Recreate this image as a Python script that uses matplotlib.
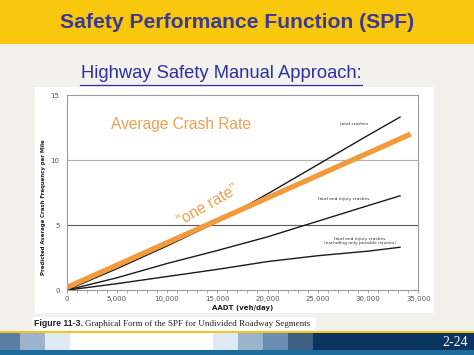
import matplotlib
matplotlib.use("Agg")
import matplotlib.pyplot as plt
from matplotlib.patches import Rectangle
import matplotlib.ticker as mticker

# ---- data ----
aadt = [0, 5000, 10000, 15000, 20000, 25000, 30000, 33180]
total_crashes = [0, 1.65, 3.4, 5.25, 7.4, 9.65, 11.9, 13.3]
fi_crashes = [0, 0.95, 2.05, 3.05, 4.1, 5.3, 6.5, 7.25]
fi_excl_crashes = [0, 0.5, 1.05, 1.6, 2.2, 2.65, 3.0, 3.3]
rate_aadt = [0, 34240]
rate_values = [0.2, 12.0]
x_ticks = [0, 5000, 10000, 15000, 20000, 25000, 30000, 35000]
y_ticks = [0, 5, 10, 15]

W, H = 474, 355
fig = plt.figure(figsize=(W / 100, H / 100), dpi=100)
fig.patch.set_facecolor("#f3f1ec")

def fx(px):
    return px / W

def fy(py):
    return 1 - py / H

def rect(x0, y0, x1, y1, color, z=-5):
    fig.patches.append(Rectangle((fx(x0), fy(y1)), fx(x1) - fx(x0), fy(y0) - fy(y1),
                                 transform=fig.transFigure, facecolor=color,
                                 edgecolor="none", zorder=z))

# title bar
rect(0, 0, W, 44, "#f9c80e")
fig.text(0.5, fy(22), "Safety Performance Function (SPF)", ha="center", va="center",
         fontsize=15.2, fontweight="bold", color="#3b3a94", family="Liberation Sans")
fig.text(fx(221), fy(74), "Highway Safety Manual Approach:", ha="center", va="center",
         fontsize=13.2, color="#2e2ea6", family="Liberation Sans")
fig.lines.append(plt.Line2D([fx(80), fx(362)], [fy(85), fy(85)], transform=fig.transFigure,
                            color="#2e2ea6", lw=0.9))

# white panel
rect(35, 87, 434, 313, "white")
# caption box
rect(33, 317, 316, 331, "white")
fig.text(fx(34), fy(324), "Figure 11-3.", ha="left", va="center", fontsize=6.3,
         fontweight="bold", color="#222222", family="Liberation Sans")
fig.text(fx(85), fy(324), "Graphical Form of the SPF for Undivided Roadway Segments",
         ha="left", va="center", fontsize=6.5, color="#222222", family="Liberation Serif")

# footer
rect(0, 331, W, 333, "#f5c518")
footer_blocks = [(0, 20, "#5b7fa3"), (20, 45, "#9bb3cb"), (45, 70, "#dfe9f3"),
                 (70, 213, "#ffffff"), (213, 238, "#dfe9f3"), (238, 263, "#9bb3cb"),
                 (263, 288, "#6a8db0"), (288, 313, "#3f5f80"), (313, W, "#0b3461")]
for a, b, c in footer_blocks:
    rect(a, 333, b, 350, c)
rect(0, 350, W, H, "#1d6a9c")
fig.text(fx(468), fy(342), "2-24", ha="right", va="center", fontsize=10,
         color="white", family="Liberation Serif")

# axes
ax = fig.add_axes([fx(66.5), fy(290.2), fx(418.3) - fx(66.5), fy(95) - fy(290.2)])
ax.set_zorder(5)
ax.set_facecolor("white")
ax.set_xlim(0, 35000)
ax.set_ylim(0, 15)
for s in ax.spines.values():
    s.set_color("#9a9a9a")
    s.set_linewidth(0.8)
ax.axhline(5, color="#5a5a5a", lw=0.8, zorder=1)
ax.axhline(10, color="#b0b0b0", lw=0.8, zorder=1)

ax.plot(aadt, total_crashes, color="#1a1a1a", lw=1.0, zorder=3)
ax.plot(aadt, fi_crashes, color="#1a1a1a", lw=1.0, zorder=3)
ax.plot(aadt, fi_excl_crashes, color="#1a1a1a", lw=1.0, zorder=3)
ax.plot(rate_aadt, rate_values, color="#f39a3c", lw=3.8, solid_capstyle="butt", zorder=4)

ax.set_xticks(x_ticks)
ax.set_xticklabels([f"{v:,}" for v in x_ticks])
ax.set_yticks(y_ticks)
ax.xaxis.set_minor_locator(mticker.MultipleLocator(1000))
ax.tick_params(axis="both", which="major", labelsize=5, colors="#9a9a9a",
               labelcolor="#555555", length=2.5, width=0.6, pad=2)
ax.tick_params(axis="y", length=0, pad=5)
ax.tick_params(axis="x", which="minor", length=1.8, width=0.5, colors="#9a9a9a")
ax.set_xlabel("AADT (veh/day)", fontsize=5, fontweight="bold", color="#222222", labelpad=2)
ax.set_ylabel("Predicted Average Crash Frequency per Mile", fontsize=3.9,
              fontweight="bold", color="#222222")
ax.yaxis.set_label_coords(-0.057, 0.425)

ax.text(4400, 12.7, "Average Crash Rate", fontsize=11.2, color="#f0a050",
        family="Liberation Sans", va="center", ha="left")
ax.text(14100, 6.5, "\u201cone rate\u201d", fontsize=11.2, color="#f0a050",
        family="Liberation Sans", va="center", ha="center", rotation=30)
ax.text(28600, 12.75, "total crashes", fontsize=3.2, color="#333333", ha="center", va="center")
ax.text(27600, 7.0, "fatal and injury crashes", fontsize=3.2, color="#333333",
        ha="center", va="center")
ax.text(29200, 3.8, "fatal and injury crashes\n(excluding only possible injuries)",
        fontsize=3.2, color="#333333", ha="center", va="center", linespacing=1.1)

fig.savefig("out.png", dpi=100, facecolor=fig.get_facecolor())
